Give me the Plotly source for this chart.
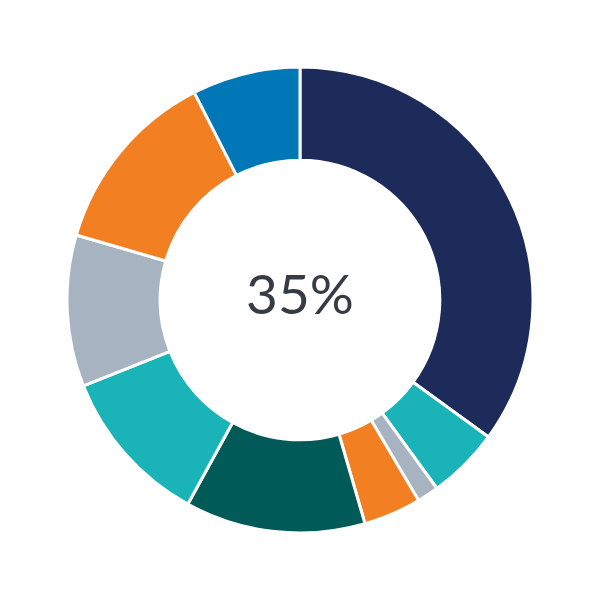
import plotly.graph_objects as go

# slice values, clockwise from 12 o'clock
labels = ["A", "B", "C", "D", "E", "F", "G", "H", "I"]
values = [35, 5, 1.5, 4, 12.5, 11, 10.5, 13, 7.5]
colors = [
    "#1c2b5a",  # navy
    "#1ab3b8",  # teal
    "#a8b3c2",  # gray
    "#f27f22",  # orange
    "#005a58",  # dark teal
    "#1ab3b8",
    "#a8b3c2",
    "#f27f22",
    "#0077b6",  # blue
]
center_text = "35%"

fig = go.Figure(
    go.Pie(
        labels=labels,
        values=values,
        hole=0.6,
        sort=False,
        direction="clockwise",
        rotation=0,
        textinfo="none",
        hoverinfo="none",
        marker=dict(colors=colors, line=dict(color="white", width=3)),
    )
)

fig.add_annotation(
    text=center_text,
    x=0.5,
    y=0.5,
    xref="paper",
    yref="paper",
    yshift=7,
    showarrow=False,
    font=dict(family="Lato", size=55, color="#363b45"),
)

fig.update_layout(
    width=600,
    height=600,
    margin=dict(l=59, r=75, t=59, b=75),
    showlegend=False,
    paper_bgcolor="white",
    plot_bgcolor="white",
)

fig.write_html("out.html")
